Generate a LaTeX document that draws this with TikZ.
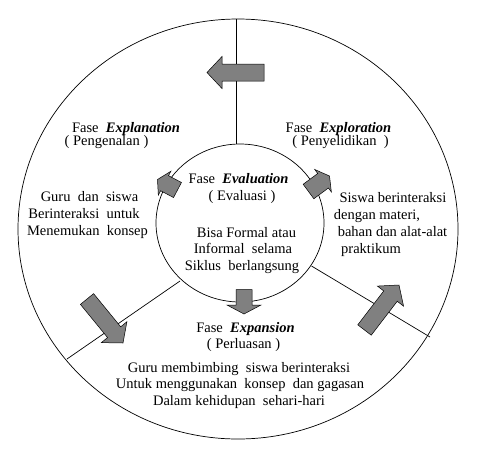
\documentclass[tikz,border=0pt]{standalone}
\usepackage{fontspec}
\setmainfont{Liberation Serif}
\usetikzlibrary{calc,shapes.geometric}
\definecolor{arrowgray}{HTML}{808080}
\tikzset{
  ring/.style={draw, ellipse, inner sep=0pt, line width=0.7pt},
  divider/.style={draw, line width=0.7pt},
  blockarr/.style={draw=black, fill=arrowgray, line width=0.5pt, line join=miter},
  lbl/.style={inner sep=0pt, anchor=base, font=\fontsize{14.5}{17.5}\selectfont},
}
\newcommand\blockarrowat[6]{%
  \coordinate (#1-t) at #2;
  \coordinate (#1-p) at #3;
  \coordinate (#1-h) at ($(#1-p)!#4!(#1-t)$);
  \path[blockarr] ($(#1-t)!#6!90:(#1-p)$) -- ($(#1-h)!#6!90:(#1-p)$) -- ($(#1-h)!#5!90:(#1-p)$) -- (#1-p) -- ($(#1-h)!#5!-90:(#1-p)$) -- ($(#1-h)!#6!-90:(#1-p)$) -- ($(#1-t)!#6!-90:(#1-p)$) -- cycle;
}
\newcommand\be[1]{\textbf{\textit{#1}}}
\begin{document}
\begin{tikzpicture}[x=1pt,y=-1pt]
\useasboundingbox[fill=white] (0,0) rectangle (482,451);
% rings
\node[ring, minimum width=440pt, minimum height=420pt] (outer) at (238,229) {};
\node[ring, minimum width=168pt, minimum height=158pt] (inner) at (240,223) {};
% dividers
\coordinate (vtop) at (236,19);
\coordinate (vbot) at (236,144.2);
\coordinate (llin) at (180,281);
\coordinate (llout) at (67,359);
\coordinate (lrin) at (311.5,266);
\coordinate (lrout) at (430,337);
\draw[divider] (vtop) -- (vbot);
\draw[divider] (llin) -- (llout);
\draw[divider] (lrin) -- (lrout);
% big arrows
\blockarrowat{atop}{(264,72.5)}{(207,72.5)}{15pt}{16pt}{8.5pt}
\blockarrowat{all}{(87,299)}{(123,343)}{14pt}{16.5pt}{8.5pt}
\blockarrowat{alr}{(364.5,330)}{(399,285)}{14pt}{16.5pt}{8.5pt}
% small arrows
\blockarrowat{aul}{(177.5,190)}{(157.5,179.5)}{8pt}{13.5pt}{8.5pt}
\blockarrowat{aur}{(308.5,191.5)}{(329.5,176)}{8pt}{14pt}{9pt}
\blockarrowat{abt}{(244,289.5)}{(244,314)}{9pt}{17pt}{8pt}
% labels
\node[lbl] (explT) at (126,132) {Fase\ \ \be{Explanation}};
\node[lbl] (explS) at (106.5,145) {( Pengenalan )};
\node[lbl] (explrT) at (338.5,132) {Fase\ \ \be{Exploration}};
\node[lbl] (explrS) at (340.5,145) {( Penyelidikan\ \ )};
\node[lbl] (evalT) at (238.5,183) {Fase\ \ \be{Evaluation}};
\node[lbl] (evalS) at (242,200) {( Evaluasi )};
\node[lbl] (eval1) at (246.5,237) {Bisa Formal atau};
\node[lbl] (eval2) at (243,253.5) {Informal\ \ selama};
\node[lbl] (eval3) at (242,270) {Siklus\ \ berlangsung};
\node[lbl] (left1) at (89.5,201) {Guru\ \ dan\ \ siswa};
\node[lbl] (left2) at (84,218) {Berinteraksi\ \ untuk};
\node[lbl] (left3) at (87.5,235) {Menemukan\ \ konsep};
\node[lbl] (right1) at (393,202) {Siswa berinteraksi};
\node[lbl] (right2) at (377,219) {dengan materi,};
\node[lbl] (right3) at (392.5,236) {bahan dan alat-alat};
\node[lbl] (right4) at (371,253) {praktikum};
\node[lbl] (expT) at (245.5,332) {Fase\ \ \be{Expansion}};
\node[lbl] (expS) at (243.5,348) {( Perluasan )};
\node[lbl] (exp1) at (239,372) {Guru membimbing\ \ siswa berinteraksi};
\node[lbl] (exp2) at (240,388.5) {Untuk menggunakan\ \ konsep\ \ dan gagasan};
\node[lbl] (exp3) at (239,405) {Dalam kehidupan\ \ sehari-hari};
\end{tikzpicture}
\end{document}
